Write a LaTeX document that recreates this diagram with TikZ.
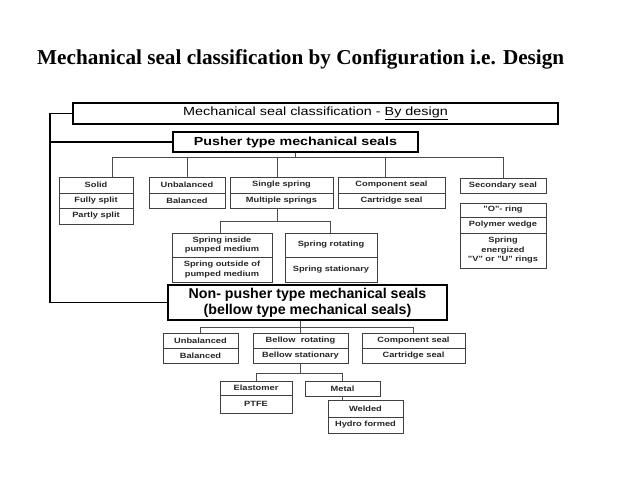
\documentclass[tikz,border=0pt]{standalone}
\usepackage{fontspec}
\setmainfont{Liberation Sans}
\newfontfamily\titlefont{Liberation Serif}
\newfontfamily\widefont[FakeStretch=1.22]{Liberation Sans}
\begin{document}
\begin{tikzpicture}[x=1pt,y=-1pt,
  cell/.style={draw=black!75, line width=0.8pt, inner sep=1pt, align=center,
    font=\widefont\fontsize{7.6}{9.5}\selectfont\bfseries, text=black!85},
  main/.style={draw=black, line width=1.6pt, inner sep=1pt, align=center},
  conn/.style={draw=black!70, line width=0.8pt},
  spine/.style={draw=black, line width=1.3pt}]
\useasboundingbox[fill=white] (0,0) rectangle (638,479);

\node[anchor=base west, inner sep=0pt, font=\titlefont\fontsize{21.2}{24}\selectfont\bfseries] (title) at (37,64)
  {Mechanical seal classification by Configuration i.e. Design};

% main boxes
\node[main, minimum width=485, minimum height=21, font=\widefont\fontsize{11.8}{14}\selectfont] (top) at (315.5,113.5)
  {Mechanical seal classification - \underline{By design}};
\node[main, minimum width=245, minimum height=20, font=\widefont\fontsize{11.7}{14}\selectfont\bfseries] (pusher) at (295.5,142)
  {Pusher type mechanical seals};
\node[main, minimum width=279, minimum height=35, font=\fontsize{14.2}{16}\selectfont\bfseries] (nonpusher) at (307.5,302.5)
  {Non- pusher type mechanical seals\\(bellow type mechanical seals)};

% spine
\coordinate (sp) at (50,0);
\draw[spine] (top.west) -| (sp |- nonpusher.west) -- (nonpusher.west);
\draw[spine] (pusher.west) -- (sp |- pusher.west);

% pusher children
\node[cell, minimum width=74, minimum height=16] (solid) at (96,185) {Solid};
\node[cell, minimum width=74, minimum height=15] (fully) at (96,200.5) {Fully split};
\node[cell, minimum width=74, minimum height=16] (partly) at (96,216) {Partly split};

\node[cell, minimum width=76, minimum height=16] (unbal) at (187,185) {Unbalanced};
\node[cell, minimum width=76, minimum height=15] (bal) at (187,200.5) {Balanced};

\node[cell, minimum width=103, minimum height=16] (ss) at (281.5,185) {Single spring};
\node[cell, minimum width=103, minimum height=15] (ms) at (281.5,200.5) {Multiple springs};

\node[cell, minimum width=107, minimum height=16] (comp) at (391.5,185) {Component seal};
\node[cell, minimum width=107, minimum height=15] (cart) at (391.5,200.5) {Cartridge seal};

\node[cell, minimum width=86, minimum height=15] (sec) at (503,185.5) {Secondary seal};
\node[cell, minimum width=86, minimum height=14] (oring) at (503,210) {"O"- ring};
\node[cell, minimum width=86, minimum height=16] (poly) at (503,225) {Polymer wedge};
\node[cell, minimum width=86, minimum height=35] (spen) at (503,250.5) {Spring\\energized\\"V" or "U" rings};

\coordinate (pb) at ([yshift=-5pt]pusher.south);
\draw[conn] (pusher.south) -- (pb);
\draw[conn] (pb) -| ([xshift=16pt]solid.north);
\draw[conn] (pb) -| (unbal.north);
\draw[conn] (pb) -| ([xshift=-4.5pt]ss.north);
\draw[conn] (pb) -| ([xshift=-6.5pt]comp.north);
\draw[conn] (pb) -| (sec.north);

% single spring children
\node[cell, minimum width=100, minimum height=24] (sin) at (222,245) {Spring inside\\pumped medium};
\node[cell, minimum width=100, minimum height=25] (sout) at (222,269.5) {Spring outside of\\pumped medium};
\node[cell, minimum width=92, minimum height=24] (srot) at (331,245) {Spring rotating};
\node[cell, minimum width=92, minimum height=25] (sstat) at (331,269.5) {Spring stationary};

\coordinate (sb) at ([xshift=-4.5pt,yshift=-13pt]ms.south);
\draw[conn] ([xshift=-4.5pt]ms.south) -- (sb);
\draw[conn] (sb) -| ([xshift=-2pt]sin.north);
\draw[conn] (sb) -| ([xshift=-1pt]srot.north);

% non-pusher children
\node[cell, minimum width=75, minimum height=15] (nunbal) at (200.5,340.5) {Unbalanced};
\node[cell, minimum width=75, minimum height=15] (nbal) at (200.5,355.5) {Balanced};
\node[cell, minimum width=95, minimum height=15] (brot) at (300.5,340.5) {Bellow\ \ rotating};
\node[cell, minimum width=95, minimum height=15] (bstat) at (300.5,355.5) {Bellow stationary};
\node[cell, minimum width=103, minimum height=15] (ncomp) at (413.5,340.5) {Component seal};
\node[cell, minimum width=103, minimum height=15] (ncart) at (413.5,355.5) {Cartridge seal};

\coordinate (nb) at (brot.north |- 0,327);
\draw[conn] (nb |- nonpusher.south) -- (nb);
\draw[conn] (nb) -| (nunbal.north);
\draw[conn] (nb) -| (ncomp.north);
\draw[conn] (nb) -- (brot.north);

% bellow children
\node[cell, minimum width=72, minimum height=14] (elas) at (256,388) {Elastomer};
\node[cell, minimum width=72, minimum height=18] (ptfe) at (256,404) {PTFE};
\node[cell, minimum width=75, minimum height=15] (metal) at (342.5,388.5) {Metal};
\node[cell, minimum width=75, minimum height=17] (weld) at (365.5,408.5) {Welded};
\node[cell, minimum width=75, minimum height=16] (hydro) at (365.5,425) {Hydro formed};

\coordinate (bb) at ([yshift=-10pt]bstat.south);
\draw[conn] (bstat.south) -- (bb);
\draw[conn] (bb) -| (elas.north);
\draw[conn] (bb) -| (metal.north);
\draw[conn] (metal.south) -- (metal.south |- weld.north);
\end{tikzpicture}
\end{document}
